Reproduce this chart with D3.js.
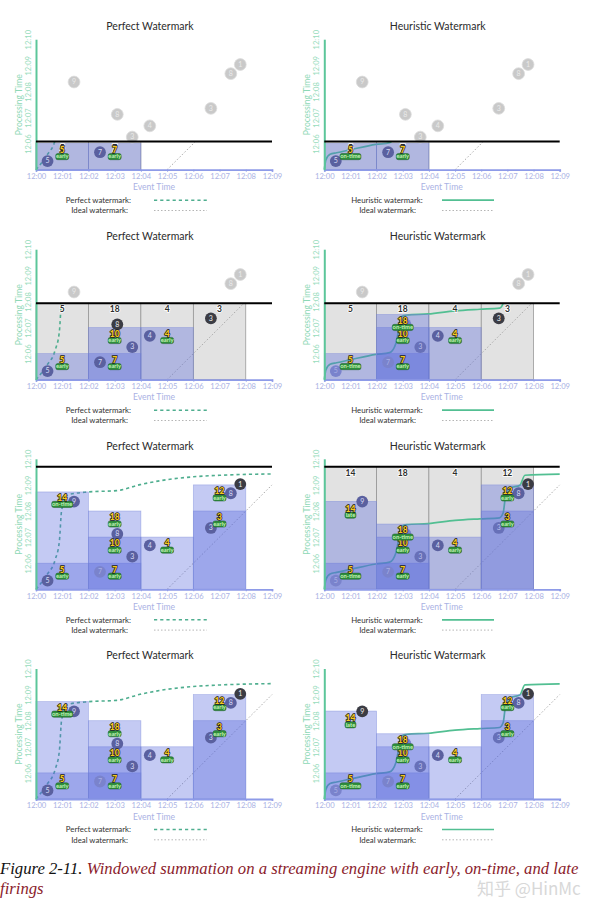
<!DOCTYPE html>
<html><head><meta charset="utf-8">
<script src="https://cdnjs.cloudflare.com/ajax/libs/d3/7.8.5/d3.min.js"></script>
<style>html,body{margin:0;padding:0;background:#fff}svg{display:block}</style>
</head><body><div id="c"></div>
<script>
// ---- data ----
const eventTicks = [0,1,2,3,4,5,6,7,8,9];
const procTicks = [6,7,8,9,10];
const pointEvent = [0.44,1.45,2.44,3.1,3.67,4.34,6.67,7.43,7.79];
const pointProc  = [5.33,8.36,5.67,7.12,6.25,6.68,7.35,8.68,9.03];
const pointNum   = [5,9,7,8,3,4,3,8,1];
const perfectX = [0,0.41,0.73,0.89,0.98,1.24,2,3.08,3.97,4.99,6,7.03,9];
const perfectY = [5,5.55,6.13,6.83,8.05,8.63,8.73,8.78,9.01,9.2,9.31,9.37,9.42];
const heuristicX = [0,0.06,0.22,0.47,0.98,1.97,2.5,2.74,2.96,3.15,3.97,5,5.95,6.7,6.84,6.92,7.1,7.48,7.67,9];
const heuristicY = [5,5.37,5.59,5.65,5.76,5.97,6.04,6.4,7.42,7.48,7.52,7.64,7.7,7.74,7.93,8.5,8.88,8.99,9.37,9.41];
const idealX = [5,9];
const idealY = [5,9];
const cursorTimes = [6.08,7.93,9.7,null];

// panes: window start, top in processing time
const panesL1 = [[0,6],[2,6]];
const panesL2 = [[0,6],[2,6],[2,7],[4,7]];
const panesL3 = [[0,6],[0,8.73],[2,6],[2,7],[2,8],[4,7],[6,8],[6,9]];
const panesR1 = [[0,6],[2,6]];
const panesR2 = [[0,6],[2,6],[2,7],[2,7.5],[4,7]];
const panesR3 = [[0,6],[0,8.37],[2,6],[2,7],[2,7.5],[4,7],[6,8],[6,9]];

// pending windows: window start, running count
const pendingR1 = [[0,5],[2,7]];
const pendingR2 = [[0,5],[2,18],[4,4],[6,3]];
const pendingR3 = [[0,14],[2,18],[4,4],[6,12]];

// firings: event time, level, count, timing
const firedL1 = [[1,6,5,"early"],[3,6,7,"early"]];
const firedL2 = [[1,6,5,"early"],[3,6,7,"early"],[3,7,10,"early"],[5,7,4,"early"]];
const firedL3 = [[1,6,5,"early"],[1,8.75,14,"on-time"],[3,6,7,"early"],[3,7,10,"early"],[3,8,18,"early"],[5,7,4,"early"],[7,8,3,"early"],[7,9,12,"early"]];
const firedR1 = [[1,6,5,"on-time"],[3,6,7,"early"]];
const firedR2 = [[1,6,5,"on-time"],[3,6,7,"early"],[3,7,10,"early"],[3,7.5,18,"on-time"],[5,7,4,"early"]];
const firedR3 = [[1,6,5,"on-time"],[1,8.34,14,"late"],[3,6,7,"early"],[3,7,10,"early"],[3,7.5,18,"on-time"],[5,7,4,"early"],[7,8,3,"early"],[7,9,12,"early"]];

// point states: g future, f fired, s faded, d pending
const statesA = ["f","g","f","g","g","g","g","g","g"];
const statesL2 = ["f","g","f","d","f","f","d","g","g"];
const statesR2 = ["s","g","s","s","m","f","d","g","g"];
const statesL3 = ["f","f","s","f","f","f","f","f","d"];
const statesR3 = ["s","f","s","s","m","f","m","f","d"];
const statesR4 = ["s","d","s","s","m","f","m","f","d"];

const rows = [
 {L:{panes:panesL1,pending:pendingR1,fired:firedL1,states:statesA},R:{panes:panesR1,pending:pendingR1,fired:firedR1,states:statesA}},
 {L:{panes:panesL2,pending:pendingR2,fired:firedL2,states:statesL2},R:{panes:panesR2,pending:pendingR2,fired:firedR2,states:statesR2}},
 {L:{panes:panesL3,pending:[],fired:firedL3,states:statesL3},R:{panes:panesR3,pending:pendingR3,fired:firedR3,states:statesR3}},
 {L:{panes:panesL3,pending:[],fired:firedL3,states:statesL3},R:{panes:panesR3,pending:[],fired:firedR3,states:statesR4}}
];

// ---- layout ----
const sans = "Lato,'Noto Sans',sans-serif";
const svg = d3.select("#c").append("svg").attr("width",600).attr("height",910);
const defs = svg.append("defs");
const baselines = [169.7,379.7,589.3,799];
const rowHeight = 130.5;
const fmt = d => "12:" + String(d).padStart(2,"0");
const wmLine = d3.line().curve(d3.curveMonotoneX);
const pointColors = {g:"#c9c9c9",f:"#5a609f",s:"#7a83cc",m:"#6770b8",d:"#3b3c44"};
const digitColors = {g:"#e9e9e9",f:"#d8dbf5",s:"#a8afe6",m:"#b9bfec",d:"#eeeeee"};

function panel(cfg,rowIdx,side){
  const x0 = side==="L"?36:324.3, x1 = side==="L"?272:559.7;
  const base = baselines[rowIdx];
  const x = d3.scaleLinear().domain([0,9]).range([x0,x1]);
  const y = d3.scaleLinear().domain([5,10]).range([base,base-rowHeight]);
  const g = svg.append("g");
  const cursor = cursorTimes[rowIdx];
  const clipId = "clip"+rowIdx+side;
  defs.append("clipPath").attr("id",clipId).append("rect")
    .attr("x",x0-2).attr("width",x1-x0+4)
    .attr("y",cursor===null?base-rowHeight:y(cursor)).attr("height",cursor===null?rowHeight:base-y(cursor));

  g.append("text").attr("x",side==="L"?150:437.7).attr("y",base-139.7).attr("text-anchor","middle")
    .attr("font-family",sans).attr("font-size",10.5).attr("fill","#2b2b2b")
    .text(side==="L"?"Perfect Watermark":"Heuristic Watermark");

  // pending windows
  g.selectAll(".pend").data(cfg.pending).join("rect").attr("class","pend")
    .attr("x",d=>x(d[0])).attr("width",d=>x(d[0]+2)-x(d[0]))
    .attr("y",y(cursor)).attr("height",base-y(cursor))
    .attr("fill","#e2e2e2").attr("stroke","#8f8f8f").attr("stroke-width",0.7);

  // ideal watermark
  g.append("path").attr("d",wmLine(idealX.map((v,i)=>[x(v),y(idealY[i])])))
    .attr("clip-path",`url(#${clipId})`).attr("fill","none")
    .attr("stroke","#a9a9a9").attr("stroke-width",1).attr("stroke-dasharray","1.5 2");

  // real watermark
  const wx = side==="L"?perfectX:heuristicX, wy = side==="L"?perfectY:heuristicY;
  g.append("path").attr("d",wmLine(wx.map((v,i)=>[x(v),y(wy[i])])))
    .attr("clip-path",`url(#${clipId})`).attr("fill","none")
    .attr("stroke",side==="L"?"#4fae8f":"#52bf92").attr("stroke-width",side==="L"?1.6:1.7)
    .attr("stroke-dasharray",side==="L"?"3.2 3":null);

  // panes
  g.selectAll(".pane").data(cfg.panes).join("rect").attr("class","pane")
    .attr("x",d=>x(d[0])).attr("width",d=>x(d[0]+2)-x(d[0]))
    .attr("y",d=>y(d[1])).attr("height",d=>base-y(d[1]))
    .attr("fill","#5568dd").attr("fill-opacity",0.35)
    .attr("stroke","#7a88d8").attr("stroke-opacity",0.55).attr("stroke-width",0.7);

  // axes
  const ax = g.append("g").attr("transform",`translate(0,${base})`)
    .call(d3.axisBottom(x).tickValues(eventTicks).tickFormat(fmt).tickSize(2).tickPadding(2));
  ax.select(".domain").attr("stroke","#8e9be8").attr("stroke-width",1.8);
  ax.selectAll(".tick line").attr("stroke","#8e9be8");
  ax.selectAll("text").attr("font-family",sans).attr("font-size",7.6).attr("fill","#aab2e4");
  const ay = g.append("g").attr("transform",`translate(${x0},0)`)
    .call(d3.axisLeft(y).tickValues(procTicks).tickFormat(fmt).tickSize(0).tickSizeOuter(0));
  ay.select(".domain").attr("stroke","#5cc69a").attr("stroke-width",2);
  ay.selectAll(".tick text").attr("font-family",sans).attr("font-size",7.6).attr("fill","#97dcbc")
    .attr("x",null).attr("dy",null).attr("text-anchor","middle")
    .attr("transform","translate(-5.5,0) rotate(-90)");

  g.append("text").attr("transform",`translate(${side==="L"?20:308},${base-65}) rotate(-90)`)
    .attr("text-anchor","middle").attr("dominant-baseline","middle")
    .attr("font-family",sans).attr("font-size",8.6).attr("fill","#8ed8b6").text("Processing Time");
  g.append("text").attr("x",side==="L"?154:441.7).attr("y",base+20.5).attr("text-anchor","middle")
    .attr("font-family",sans).attr("font-size",8.6).attr("fill","#aab2e4").text("Event Time");

  // points
  const pts = g.selectAll(".pt").data(pointNum.map((n,i)=>({n,ex:pointEvent[i],py:pointProc[i],s:cfg.states[i]})))
    .join("g").attr("class","pt").attr("transform",d=>`translate(${x(d.ex)},${y(d.py)})`);
  pts.append("circle").attr("r",5.9).attr("fill",d=>pointColors[d.s])
    .attr("stroke",d=>d.s==="g"?"#dcdcdc":"none").attr("stroke-width",0.8);
  pts.append("text").attr("text-anchor","middle").attr("dy",2.4).attr("font-family",sans)
    .attr("font-size",7).attr("fill",d=>digitColors[d.s]).text(d=>d.n);

  // pending counts
  g.selectAll(".pc").data(cfg.pending).join("text").attr("class","pc")
    .attr("x",d=>x(d[0]+1)).attr("y",y(cursor)+9).attr("text-anchor","middle")
    .attr("font-family",sans).attr("font-size",8.5).attr("font-weight",700)
    .attr("fill","#2e2e2e").attr("stroke","#fff").attr("stroke-width",1.6).attr("paint-order","stroke").text(d=>d[1]);

  // cursor
  if(cursor!==null) g.append("line").attr("x1",x0).attr("x2",x1).attr("y1",y(cursor)).attr("y2",y(cursor))
    .attr("stroke","#000").attr("stroke-width",2);

  // firing labels
  const fl = g.selectAll(".fl").data(cfg.fired).join("g").attr("class","fl")
    .attr("transform",d=>`translate(${x(d[0])},${y(d[1])})`);
  const pillW = {"early":13,"on-time":21,"late":11};
  fl.append("rect").attr("x",d=>-pillW[d[3]]/2).attr("width",d=>pillW[d[3]]).attr("y",9.9).attr("height",6.2)
    .attr("rx",2).attr("fill","#2f8f3c").attr("stroke","#1d5a26").attr("stroke-width",0.5);
  fl.append("text").attr("text-anchor","middle").attr("y",14.9).attr("font-family",sans)
    .attr("font-size",5.8).attr("font-weight",700).attr("fill","#c5f2b8").text(d=>d[3]);
  fl.append("text").attr("text-anchor","middle").attr("y",9.4).attr("font-family",sans)
    .attr("font-size",8.5).attr("font-weight",900).attr("fill","#f6c81e")
    .attr("stroke","#1c1c1c").attr("stroke-width",1.4).attr("paint-order","stroke").text(d=>d[2]);

  // legend
  const legEnd = side==="L"?131:422.7, idealEnd = side==="L"?128:416;
  const lx0 = side==="L"?154:442, lx1 = side==="L"?207:494;
  const ly = base+30.5;
  g.append("text").attr("x",legEnd).attr("y",ly+2.7).attr("text-anchor","end").attr("font-family",sans)
    .attr("font-size",7.8).attr("fill","#333").text(side==="L"?"Perfect watermark:":"Heuristic watermark:");
  g.append("text").attr("x",idealEnd).attr("y",ly+13).attr("text-anchor","end").attr("font-family",sans)
    .attr("font-size",7.8).attr("fill","#333").text("Ideal watermark:");
  g.append("line").attr("x1",lx0).attr("x2",lx1).attr("y1",ly).attr("y2",ly)
    .attr("stroke",side==="L"?"#4fae8f":"#52bf92").attr("stroke-width",side==="L"?1.6:1.7)
    .attr("stroke-dasharray",side==="L"?"3.2 3":null);
  g.append("line").attr("x1",lx0).attr("x2",lx1).attr("y1",ly+10.3).attr("y2",ly+10.3)
    .attr("stroke","#b5b5b5").attr("stroke-width",1).attr("stroke-dasharray","1.5 2");
}
rows.forEach((r,i)=>{panel(r.L,i,"L");panel(r.R,i,"R");});

// ---- caption ----
const serif = "'Liberation Serif',serif";
const cap = svg.append("text").attr("x",0).attr("y",874).attr("font-family",serif)
  .attr("font-style","italic").attr("font-size",16.7);
cap.append("tspan").attr("fill","#111").text("Figure 2-11. ");
cap.append("tspan").attr("fill","#8b1c2c").text("Windowed summation on a streaming engine with early, on-time, and late");
svg.append("text").attr("x",0).attr("y",894).attr("font-family",serif).attr("font-style","italic")
  .attr("font-size",16.7).attr("fill","#8b1c2c").text("firings");
svg.append("text").attr("x",477).attr("y",895).attr("font-family","'Noto Sans CJK SC','Open Sans',sans-serif")
  .attr("font-size",17).attr("fill","#d8d8d8").text("知乎 @HinMc");
</script></body></html>
